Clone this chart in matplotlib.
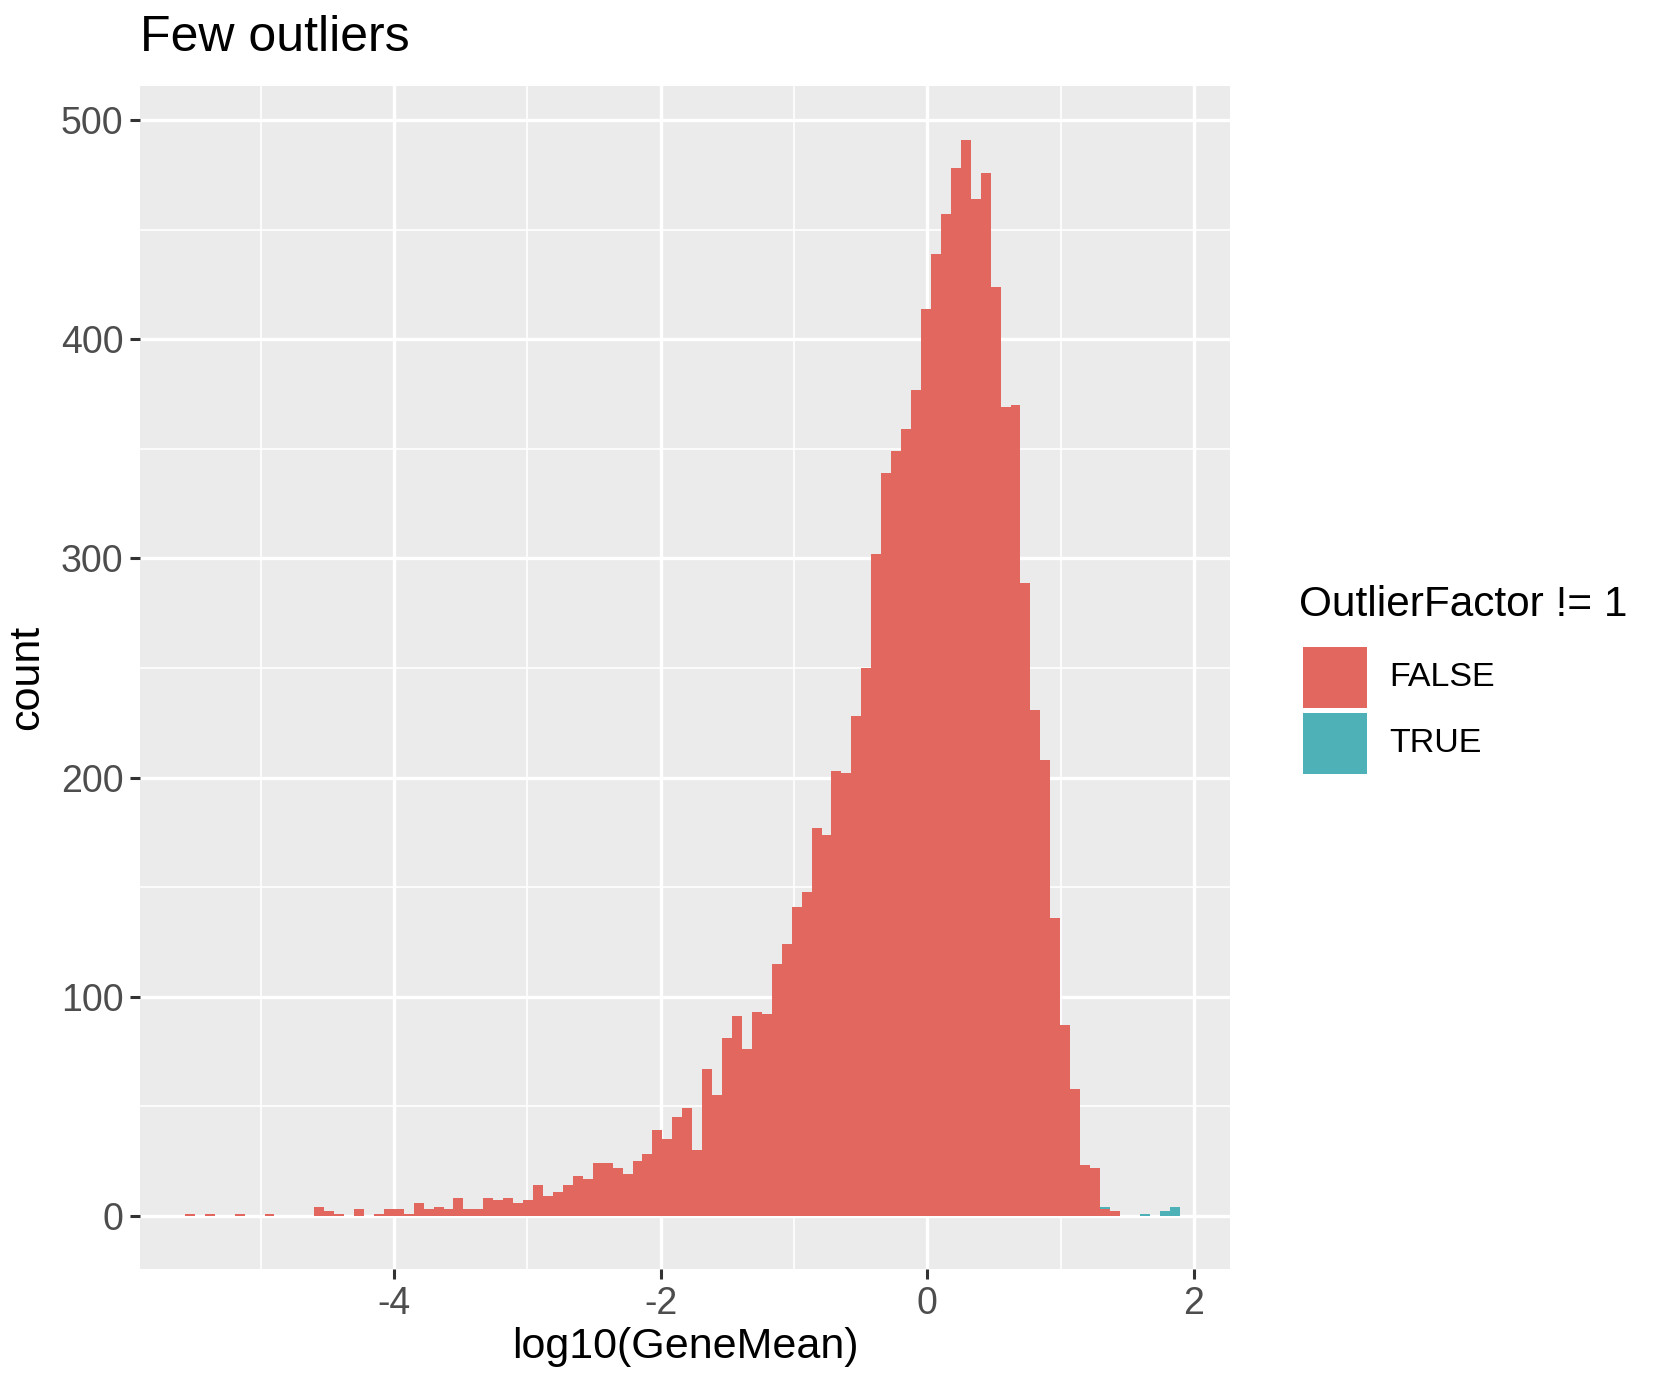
import numpy as np
import matplotlib
matplotlib.use("Agg")
import matplotlib.pyplot as plt
from matplotlib.patches import Rectangle

plt.rcParams['font.family'] = ['Liberation Sans', 'DejaVu Sans']

# Histogram of log10(GeneMean): bin index k, left edge = ORIGIN + k*BIN_WIDTH
BIN_WIDTH = 0.0746
ORIGIN = -0.0475
bin_index = list(range(-74, 26))
false_counts = {
    -74: 1, -72: 1, -69: 1, -66: 1,
    -61: 4, -60: 2, -59: 1, -58: 0, -57: 3, -56: 0, -55: 1, -54: 3, -53: 3, -52: 1,
    -51: 6, -50: 3, -49: 4, -48: 3, -47: 8, -46: 3, -45: 3, -44: 8, -43: 7, -42: 8,
    -41: 6, -40: 7, -39: 14, -38: 9, -37: 11, -36: 14, -35: 18, -34: 17, -33: 24,
    -32: 24, -31: 22, -30: 19, -29: 25, -28: 28, -27: 39, -26: 35, -25: 45, -24: 49,
    -23: 30, -22: 67, -21: 55, -20: 81, -19: 91, -18: 76, -17: 93, -16: 92, -15: 115,
    -14: 124, -13: 141, -12: 148, -11: 177, -10: 174, -9: 203, -8: 202, -7: 228,
    -6: 250, -5: 302, -4: 339, -3: 349, -2: 359, -1: 377, 0: 414, 1: 439, 2: 457,
    3: 478, 4: 491, 5: 464, 6: 476, 7: 424, 8: 369, 9: 370, 10: 289, 11: 231,
    12: 208, 13: 136, 14: 87, 15: 58, 16: 23, 17: 22, 18: 3, 19: 2,
}
true_counts = {18: 1, 22: 1, 24: 2, 25: 4}

x_ticks = [-4, -2, 0, 2]
y_ticks = [0, 100, 200, 300, 400, 500]
legend_labels = ["FALSE", "TRUE"]

RED = "#E2675F"
TEAL = "#4DB1B7"

fig = plt.figure(figsize=(16.68, 13.9), dpi=100)
ax = fig.add_axes([0.084, 0.087, 0.6535, 0.851])
ax.set_facecolor("#EBEBEB")

left = np.array([ORIGIN + k * BIN_WIDTH for k in bin_index])
f = np.array([false_counts.get(k, 0) for k in bin_index])
t = np.array([true_counts.get(k, 0) for k in bin_index])
ax.bar(left, f, width=BIN_WIDTH, align="edge", color=RED, linewidth=0, zorder=3)
ax.bar(left, t, width=BIN_WIDTH, align="edge", bottom=f, color=TEAL, linewidth=0, zorder=3)

ax.set_xlim(-5.904, 2.271)
ax.set_ylim(-24.3, 515.5)
ax.set_xticks(x_ticks)
ax.set_xticklabels([f"{v}" if v >= 0 else f"-{abs(v)}" for v in x_ticks])
ax.set_yticks(y_ticks)
ax.set_xticks([-5, -3, -1, 1], minor=True)
ax.set_yticks([50, 150, 250, 350, 450], minor=True)
ax.grid(which="major", color="white", linewidth=2.4, zorder=0)
ax.grid(which="minor", color="white", linewidth=1.2, zorder=0)
ax.set_axisbelow(True)
for s in ax.spines.values():
    s.set_visible(False)
ax.tick_params(which="major", length=7, width=2.2, color="#333333",
               labelsize=27, labelcolor="#4D4D4D", pad=5)
ax.tick_params(which="minor", length=0)

ax.set_xlabel("log10(GeneMean)", fontsize=31, color="black", labelpad=4)
ax.set_ylabel("count", fontsize=31, color="black", labelpad=10)
fig.text(0.084, 0.973, "Few outliers", fontsize=36, va="center", ha="left")

# Legend
fig.text(0.779, 0.565, "OutlierFactor != 1", fontsize=30.5, va="center", ha="left")
for i, (lab, col) in enumerate(zip(legend_labels, [RED, TEAL])):
    yb = 0.4908 - i * 0.0477
    fig.add_artist(Rectangle((0.781, yb), 0.0385, 0.0438, transform=fig.transFigure,
                             facecolor=col, edgecolor="none"))
    fig.text(0.833, yb + 0.0219, lab, fontsize=24.5, va="center", ha="left")

fig.savefig("out.png", dpi=100)
